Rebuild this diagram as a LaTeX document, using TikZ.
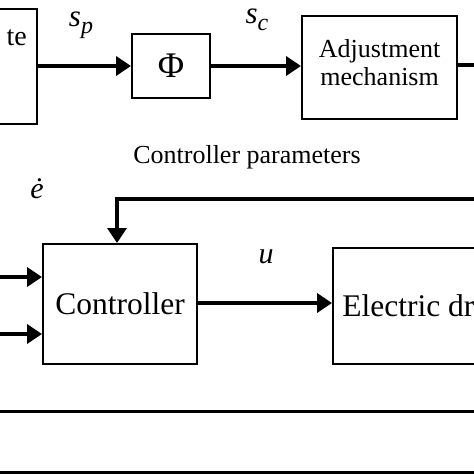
\documentclass[tikz,border=0pt]{standalone}
\usepackage{fontspec}
\setmainfont{Liberation Serif}
\usetikzlibrary{arrows.meta}
\begin{document}
\begin{tikzpicture}[x=1pt,y=-1pt,
  blk/.style={draw, line width=2.2pt, inner sep=0pt, anchor=north west},
  conn/.style={line width=4.5pt, -{Triangle[length=15pt,width=19pt]}},
  plain/.style={line width=4pt},
  lbl/.style={inner sep=0pt}]
\useasboundingbox (0,0) rectangle (474,474);
\clip (0,0) rectangle (474,474);
% blocks
\node[blk, minimum width=140pt, minimum height=115pt] (est) at (-104,8) {};
\node[lbl, anchor=east, font=\fontsize{28}{30}\selectfont] (estt) at (27,38) {te};
\node[blk, minimum width=78pt, minimum height=64pt, font=\fontsize{36}{38}\selectfont] (phi) at (131,33) {Φ};
\node[blk, minimum width=155pt, minimum height=103pt, align=center, font=\fontsize{26}{29}\selectfont] (adj) at (301,15) {\raisebox{6pt}{\parbox{150pt}{\centering Adjustment\\[-1pt] mechanism\vspace{10pt}}}};
\node[blk, minimum width=154pt, minimum height=120pt, font=\fontsize{31.5}{34}\selectfont] (ctl) at (42,243) {Controller};
\node[blk, minimum width=189pt, minimum height=116pt, font=\fontsize{31.5}{34}\selectfont] (ed) at (332,247) {Electric drive};
% free ends
\coordinate (adjout) at (490,65);
\coordinate (fbin) at (490,199);
\coordinate (fbcorner) at (117,199);
\coordinate (in1) at (-10,277);
\coordinate (in2) at (-10,334);
% connectors
\draw[conn] (est.east |- 0,66) -- (phi.west |- 0,66);
\draw[conn] (phi.east |- 0,66) -- (adj.west |- 0,66);
\draw[plain] (adj.east |- adjout) -- (adjout);
\draw[line width=3.5pt, -{Triangle[length=15pt,width=19pt]}] (fbin) -- (fbcorner) -- (fbcorner |- ctl.north);
\draw[conn] (in1) -- (ctl.west |- in1);
\draw[conn] (in2) -- (ctl.west |- in2);
\draw[conn] (ctl.east |- 0,303) -- (ed.west |- 0,303);
% labels
\node[lbl, font=\fontsize{31}{33}\selectfont] (sp) at (81,25) {\textit{s}\raisebox{-7pt}{\fontsize{24}{26}\selectfont\textit{p}}};
\node[lbl, font=\fontsize{31}{33}\selectfont] (sc) at (257,20) {\textit{s}\raisebox{-7pt}{\fontsize{24}{26}\selectfont\textit{c}}};
\node[lbl, font=\fontsize{26}{29}\selectfont] (cp) at (247,157) {Controller parameters};
\node[lbl, font=\fontsize{30}{32}\selectfont] (edot) at (37,189) {\textit{ė}};
\node[lbl, font=\fontsize{30}{32}\selectfont] (u) at (266,257) {\textit{u}};
% bottom lines
\draw[line width=3pt] (-10,411) -- (490,411);
\draw[line width=3pt] (-10,472) -- (490,472);
\end{tikzpicture}
\end{document}
